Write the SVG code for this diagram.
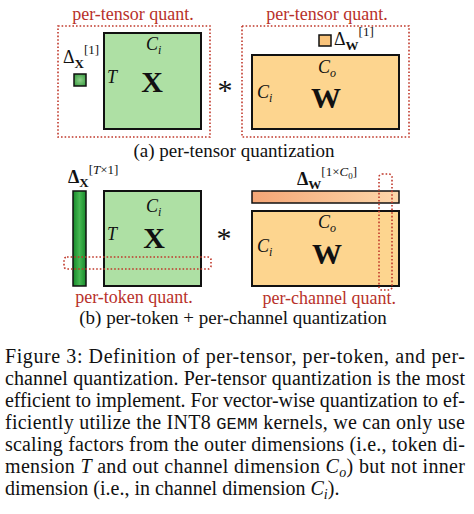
<svg xmlns="http://www.w3.org/2000/svg" width="474" height="514" viewBox="0 0 474 514">
<defs>
<style>
.t{font-family:"Liberation Serif","Times New Roman",serif;fill:#111}
.red{font-family:"Liberation Serif","Times New Roman",serif;fill:#b8312a;font-size:18px}
.cap{font-family:"Liberation Serif","Times New Roman",serif;fill:#111;font-size:20px}
.i{font-style:italic}
.b{font-weight:bold}
.box{stroke:#111;stroke-width:2}
.dot{fill:none;stroke:#c0392b;stroke-width:1.6;stroke-dasharray:1.6 2}
.gx{fill:#aee0a4}
.gw{fill:#fdd58f}
</style>
<linearGradient id="gbar" x1="0" y1="0" x2="1" y2="0">
<stop offset="0" stop-color="#17892a"/><stop offset="0.5" stop-color="#46b852"/><stop offset="1" stop-color="#17892a"/>
</linearGradient>
<radialGradient id="gsq" cx="0.5" cy="0.5" r="0.6">
<stop offset="0" stop-color="#8fd08a"/><stop offset="1" stop-color="#3d9e45"/>
</radialGradient>
<linearGradient id="obar" x1="0" y1="0" x2="1" y2="0">
<stop offset="0" stop-color="#f5a676"/><stop offset="1" stop-color="#fcd7aa"/>
</linearGradient>
</defs>

<!-- (a) per-tensor -->
<g id="a-x-group">
<text class="red" x="133" y="20" text-anchor="middle">per-tensor quant.</text>
<rect class="dot" x="58" y="26" width="152" height="111"/>
<text class="t" font-size="18" x="63" y="63">Δ<tspan class="b" font-size="13" dy="5">X</tspan><tspan font-size="13" dy="-14">[1]</tspan></text>
<rect x="74" y="74" width="12" height="12" fill="url(#gsq)" stroke="#111" stroke-width="1.5"/>
</g>
<g id="a-x-matrix">
<rect class="box gx" x="104" y="33" width="97" height="96"/>
<text class="t i" font-size="18" x="146" y="50">C<tspan font-size="12" dy="4">i</tspan></text>
<text class="t i" font-size="18" x="107" y="83">T</text>
<text class="t b" font-size="30" x="152" y="92" text-anchor="middle">X</text>
</g>
<g id="a-op">
<text class="t" font-size="30" x="225" y="100" text-anchor="middle">*</text>
</g>
<g id="a-w-group">
<text class="red" x="327" y="20" text-anchor="middle">per-tensor quant.</text>
<rect class="dot" x="242" y="26" width="167" height="111"/>
<rect x="319" y="35" width="12" height="11" fill="#f9c37a" stroke="#111" stroke-width="1.5"/>
<text class="t" font-size="18" x="334" y="45">Δ<tspan class="b" font-size="13" dy="5">W</tspan><tspan font-size="13" dy="-14">[1]</tspan></text>
</g>
<g id="a-w-matrix">
<rect class="box gw" x="252" y="55" width="147" height="74"/>
<text class="t i" font-size="18" x="318" y="73">C<tspan font-size="12" dy="4">o</tspan></text>
<text class="t i" font-size="18" x="257" y="98">C<tspan font-size="12" dy="4">i</tspan></text>
<text class="t b" font-size="30" x="326" y="108" text-anchor="middle">W</text>
</g>
<text class="t" font-size="19" x="234" y="157" text-anchor="middle">(a) per-tensor quantization</text>

<!-- (b) per-token + per-channel -->
<g id="b-x-scale">
<text class="t b" font-size="18" x="68" y="183">Δ<tspan font-size="13" dy="4">X</tspan><tspan class="t" font-weight="normal" font-size="13" dy="-13">[<tspan class="i">T</tspan>×1]</tspan></text>
<rect x="73" y="191" width="13" height="95" fill="url(#gbar)" stroke="#111" stroke-width="1.5"/>
</g>
<g id="b-x-matrix">
<rect class="box gx" x="104" y="191" width="97" height="95"/>
<text class="t i" font-size="18" x="146" y="212">C<tspan font-size="12" dy="4">i</tspan></text>
<text class="t i" font-size="18" x="107" y="240">T</text>
<text class="t b" font-size="30" x="154" y="248" text-anchor="middle">X</text>
</g>
<g id="b-token-box">
<rect class="dot" x="64" y="257" width="147" height="12" rx="3"/>
<text class="red" x="134" y="303" text-anchor="middle">per-token quant.</text>
</g>
<g id="b-op">
<text class="t" font-size="30" x="224" y="248" text-anchor="middle">*</text>
</g>
<g id="b-w-scale">
<text class="t b" font-size="18" x="297" y="185">Δ<tspan font-size="13" dy="4">W</tspan><tspan font-weight="normal" font-size="13" dy="-13">[1×<tspan class="i">C</tspan><tspan font-size="9" dy="3">0</tspan><tspan dy="-3">]</tspan></tspan></text>
<rect x="252" y="191" width="147" height="12" fill="url(#obar)" stroke="#111" stroke-width="1.5"/>
</g>
<g id="b-w-matrix">
<rect class="box gw" x="252" y="211" width="147" height="75"/>
<text class="t i" font-size="18" x="318" y="228">C<tspan font-size="12" dy="4">o</tspan></text>
<text class="t i" font-size="18" x="257" y="252">C<tspan font-size="12" dy="4">i</tspan></text>
<text class="t b" font-size="30" x="327" y="264" text-anchor="middle">W</text>
</g>
<g id="b-channel-box">
<rect class="dot" x="379" y="174" width="13" height="116" rx="3"/>
<text class="red" x="396" y="304" text-anchor="end">per-channel quant.</text>
</g>
<text class="t" font-size="19" x="233" y="324" text-anchor="middle">(b) per-token + per-channel quantization</text>

<!-- caption -->
<g id="caption">
<text class="cap" x="5" y="363" textLength="460" lengthAdjust="spacing">Figure 3:  Definition of per-tensor, per-token, and per-</text>
<text class="cap" x="5" y="385" textLength="460" lengthAdjust="spacing">channel quantization. Per-tensor quantization is the most</text>
<text class="cap" x="5" y="407" textLength="460" lengthAdjust="spacing">efficient to implement. For vector-wise quantization to ef-</text>
<text class="cap" x="5" y="429" textLength="460" lengthAdjust="spacing">ficiently utilize the INT8 <tspan font-family="Liberation Mono, Courier New, monospace" font-size="17">GEMM</tspan> kernels, we can only use</text>
<text class="cap" x="5" y="451" textLength="460" lengthAdjust="spacing">scaling factors from the outer dimensions (i.e., token di-</text>
<text class="cap" x="5" y="473" textLength="460" lengthAdjust="spacing">mension <tspan class="i">T</tspan> and out channel dimension <tspan class="i">C</tspan><tspan class="i" font-size="14" dy="4">o</tspan><tspan dy="-4">) but not inner</tspan></text>
<text class="cap" x="5" y="495">dimension (i.e., in channel dimension <tspan class="i">C</tspan><tspan class="i" font-size="14" dy="4">i</tspan><tspan dy="-4">).</tspan></text>
</g>
</svg>
